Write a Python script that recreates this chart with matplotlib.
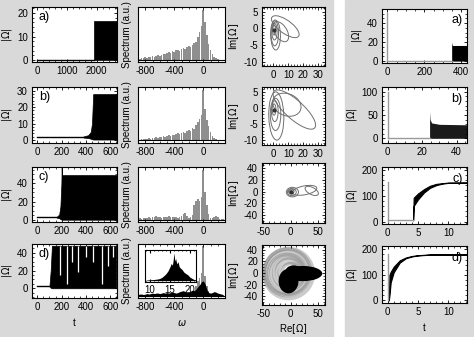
import numpy as np
import matplotlib
matplotlib.use("Agg")
import matplotlib.pyplot as plt
from matplotlib.patches import Ellipse, Rectangle
from matplotlib.ticker import AutoMinorLocator

plt.rcParams['font.family'] = ['Liberation Sans', 'DejaVu Sans']
plt.rcParams['font.size'] = 7
plt.rcParams['mathtext.fontset'] = 'dejavusans'
plt.rcParams['axes.unicode_minus'] = False

W, H = 474, 337

# ---- left column: |Omega|(t), black envelopes ----
a_base_t = [0, 1900]; a_base = [0.2, 0.2]
a_env_t = [1900, 2680]; a_env_lo = [0, 0]; a_env_hi = [16.7, 16.7]

b_base_t = [0, 380]; b_base = [1.8, 1.8]
b_env_t = [380, 420, 440, 450, 460, 656]
b_env_lo = [1.5, 1.2, 0.8, 0.5, 0.3, 0.3]
b_env_hi = [2.2, 3, 5, 10, 28, 28]

c_base_t = [0, 160]; c_base = [3, 3]
c_env_t = [160, 180, 190, 198, 200, 204, 656]
c_env_lo = [2.5, 2, 1, 0.5, 0.3, 0.3, 0.3]
c_env_hi = [3.5, 6, 15, 40, 57, 49, 49]

d_base_t = [0, 100]; d_base = [2.5, 2.5]
d_env_t = [100, 110, 120, 650]
d_env_lo = [2, 0.5, 0, 0]
d_env_hi = [3, 20, 48, 48]
d_gap_t = [186, 241, 282, 337, 400, 460, 529, 584, 625]
d_gap_lo = [15, 5, 30, 18, 35, 30, 5, 25, 35]

# ---- spectra ----
omega = list(range(-925, 276, 25))
spec_a = [0.02, 0.03, 0.02, 0.04, 0.03, 0.05, 0.04, 0.06, 0.05, 0.07,
          0.06, 0.08, 0.09, 0.08, 0.1, 0.12, 0.11, 0.13, 0.15, 0.14,
          0.17, 0.16, 0.19, 0.2, 0.18, 0.22, 0.24, 0.21, 0.26, 0.28,
          0.25, 0.3, 0.33, 0.36, 0.45, 0.55, 0.68, 1.0, 0.75, 0.5,
          0.32, 0.2, 0.12, 0.06, 0.03, 0.01, 0, 0, 0]
spec_b = [0.01, 0.02, 0.01, 0.02, 0.03, 0.02, 0.03, 0.04, 0.03, 0.05,
          0.04, 0.06, 0.05, 0.07, 0.06, 0.08, 0.07, 0.09, 0.1, 0.08,
          0.11, 0.1, 0.12, 0.14, 0.12, 0.15, 0.17, 0.14, 0.19, 0.2,
          0.18, 0.24, 0.22, 0.3, 0.36, 0.42, 0.5, 1.0, 0.62, 0.4,
          0.28, 0.16, 0.08, 0.04, 0.02, 0.01, 0, 0, 0]
spec_c = [0.02, 0.02, 0.03, 0.02, 0.03, 0.03, 0.04, 0.05, 0.04, 0.06,
          0.05, 0.07, 0.06, 0.05, 0.04, 0.05, 0.06, 0.06, 0.07, 0.06,
          0.05, 0.06, 0.05, 0.04, 0.05, 0.08, 0.12, 0.13, 0.08, 0.04,
          0.05, 0.1, 0.3, 0.38, 0.42, 0.38, 0.45, 1.0, 0.55, 0.3,
          0.12, 0.04, 0.03, 0.06, 0.07, 0.05, 0.02, 0.01, 0.01]
spec_d_gray = [0, 0, 0, 0, 0, 0, 0, 0, 0, 0,
               0, 0, 0, 0, 0, 0, 0, 0, 0, 0,
               0, 0, 0, 0, 0, 0, 0, 0, 0, 0,
               0, 0, 0, 0.2, 0.3, 0.35, 0.45, 1.0, 0.4, 0.2,
               0.1, 0, 0, 0, 0, 0, 0, 0, 0]
spec_d_black = [0.02, 0.02, 0.03, 0.03, 0.02, 0.03, 0.04, 0.03, 0.04, 0.05,
                0.04, 0.05, 0.05, 0.04, 0.05, 0.06, 0.05, 0.06, 0.05, 0.06,
                0.07, 0.06, 0.05, 0.06, 0.08, 0.09, 0.1, 0.08, 0.06, 0.07,
                0.09, 0.11, 0.1, 0.13, 0.18, 0.22, 0.28, 0.3, 0.24, 0.12,
                0.06, 0.05, 0.06, 0.08, 0.07, 0.05, 0.04, 0.03, 0.02]
inset_x = [9, 10, 11, 12, 12.5, 13, 13.5, 14, 14.5, 15, 15.3, 15.6, 15.8, 16,
           16.2, 16.4, 16.7, 17, 17.3, 17.6, 18, 18.5, 19, 19.5, 20, 20.5, 21, 22]
inset_hi = [0.02, 0.03, 0.04, 0.06, 0.08, 0.12, 0.18, 0.25, 0.35, 0.5, 0.62, 0.55,
            0.75, 1.0, 0.7, 0.8, 0.6, 0.68, 0.5, 0.45, 0.4, 0.3, 0.25, 0.2,
            0.12, 0.08, 0.04, 0.02]

# ---- phase portraits: (cx, cy, width, height, angle) ----
ph_a = [(0.5, -0.5, 2, 3, 0), (0.8, -1, 3.5, 5, 0), (1, -1.5, 5, 7.5, 0),
        (1.5, -2, 6.5, 9, 5), (8, 0.5, 19, 4.5, -15), (5, -1, 11, 5, -20)]
ph_b = [(0.5, -0.5, 2.5, 3.5, 0), (1, -1, 4.5, 6.5, 0), (1.5, -2, 7, 10, 0),
        (2, -2.5, 10, 15, 5), (14, -0.5, 30, 7, -20), (9, 1, 19, 7, -5)]
ph_c = [(0, 0, 5, 4, 0), (1, 0, 10, 8, 0), (2, -1, 16, 12, 0),
        (3, -1, 22, 16, 0), (25, 2, 45, 15, 10), (38, 1, 26, 12, -25)]
ph_d_rings = [(0, 2, 30, 28), (-2, 0, 38, 36), (-3, 2, 46, 44), (-4, 0, 54, 52),
              (-5, 1, 62, 60), (-6, -1, 70, 66), (-5, 0, 78, 74), (-6, 1, 84, 80),
              (-4, -1, 90, 86)]
ph_d_blob = [(22, -1, 70, 26, 0), (-4, -14, 36, 42, 0), (5, 2, 30, 22, 0)]

# ---- right panel ----
ra_spike = [0, 51]; ra_base_t = [0, 348]; ra_base = [0.3, 0.3]
ra_env_t = [348, 352, 431]; ra_env_hi = [20, 16.5, 16.5]
rb_spike = [0, 100]; rb_base_t = [0, 24.3]; rb_base = [0.5, 0.5]
rb_env_t = [24.3, 24.6, 25.5, 30, 46]; rb_env_hi = [57, 40, 33, 30, 29]
rc_spike = [0, 152]; rc_base_t = [0, 4.2]; rc_base = [5, 5]
rc_env_t = [4.2, 4.3, 5, 6, 7, 8, 9, 10, 13.1]
rc_env_lo = [5, 60, 85, 112, 130, 140, 146, 149, 150]
rc_env_hi = [5, 92, 108, 125, 138, 145, 148, 150, 150]
rd_spike = [0, 182]
rd_env_t = [0.2, 0.3, 0.5, 1, 2, 3, 4, 5, 7, 13.1]
rd_env_lo = [0, 20, 70, 110, 148, 165, 172, 176, 179, 180]
rd_env_hi = [0, 100, 112, 132, 157, 168, 174, 177, 180, 180]

fig = plt.figure(figsize=(W / 100, H / 100), dpi=100)
fig.patch.set_facecolor('white')
fig.patches.append(Rectangle((0, 0), 333 / W, 1, transform=fig.transFigure,
                             color='#d9d9d9', zorder=-10))
fig.patches.append(Rectangle((345 / W, 0), 1 - 345 / W, 1, transform=fig.transFigure,
                             color='#d9d9d9', zorder=-10))


def box(l, t, r, b):
    ax = fig.add_axes([l / W, 1 - b / H, (r - l) / W, (b - t) / H])
    ax.set_facecolor('white')
    ax.tick_params(direction='in', top=True, right=True, length=2.5, width=0.6,
                   labelsize=7, pad=3)
    ax.tick_params(which='minor', direction='in', top=True, right=True, length=1.5, width=0.5)
    ax.xaxis.set_minor_locator(AutoMinorLocator())
    ax.yaxis.set_minor_locator(AutoMinorLocator())
    for s in ax.spines.values():
        s.set_linewidth(0.8)
    return ax


rows = [(7, 62), (87, 143), (167, 222), (244, 298)]
labels = ['a)', 'b)', 'c)', 'd)']

# column 1
ts = [
    (a_base_t, a_base, a_env_t, a_env_lo, a_env_hi, (-170, 2680), (-0.8, 22.5), [0, 10, 20], [0, 1000, 2000]),
    (b_base_t, b_base, b_env_t, b_env_lo, b_env_hi, (-44, 656), (-1.8, 32.3), [0, 10, 20, 30], [0, 200, 400, 600]),
    (c_base_t, c_base, c_env_t, c_env_lo, c_env_hi, (-44, 656), (-2.2, 57.8), [0, 20, 40], [0, 200, 400, 600]),
    (d_base_t, d_base, d_env_t, d_env_lo, d_env_hi, (-44, 656), (-11, 50), [0, 20, 40], [0, 200, 400, 600]),
]
for i, (bt, bv, et, elo, ehi, xl, yl, yt, xt) in enumerate(ts):
    t, b = rows[i]
    ax = box(32, t, 117, b)
    ax.plot(bt, bv, color='k', lw=1)
    ax.fill_between(et, elo, ehi, color='k', lw=0.5)
    if i == 3:
        ax.vlines(d_gap_t, d_gap_lo, 48, color='white', lw=0.9)
    ax.set_xlim(xl); ax.set_ylim(yl)
    ax.set_yticks(yt); ax.set_xticks(xt)
    ax.set_ylabel(r'$|\Omega|$', labelpad=2)
    ax.text(0.08, 0.92, labels[i], transform=ax.transAxes, ha='left', va='top', fontsize=9)
    if i == 3:
        ax.set_xlabel('t', labelpad=4)

# column 2
specs = [spec_a, spec_b, spec_c, spec_d_gray]
for i, sp in enumerate(specs):
    t, b = rows[i]
    ax = box(138, t, 225, b)
    ax.bar(omega, sp, width=21, color='#8f8f8f', lw=0)
    if i == 3:
        ax.fill_between(omega, 0, spec_d_black, color='k', lw=0)
    ax.axhline(0, color='k', lw=0.8)
    ax.set_xlim(-900, 300); ax.set_ylim(-0.05, 1.05)
    ax.set_xticks([-800, -400, 0]); ax.set_yticks([])
    ax.yaxis.set_minor_locator(plt.NullLocator())
    ax.set_ylabel('Spectrum (a.u.)', labelpad=4)
    if i == 3:
        ax.set_xlabel(r'$\omega$', labelpad=4)
        ins = fig.add_axes([145 / W, 1 - 282 / H, 51 / W, 32 / H])
        ins.fill_between(inset_x, 0, inset_hi, color='k', lw=0)
        ins.tick_params(direction='in', top=True, right=True, length=2, labelsize=7, pad=2)
        ins.xaxis.set_minor_locator(AutoMinorLocator())
        ins.tick_params(which='minor', direction='in', top=True, length=1)
        ins.set_xlim(8.75, 21.5); ins.set_ylim(-0.05, 1.1)
        ins.set_xticks([10, 15, 20]); ins.set_yticks([])

# column 3
prow = [(7, 66), (87, 145), (163, 223), (245, 305)]
ph_sets = [ph_a, ph_b, ph_c]
lims = [((-7.5, 34.4), (-11.3, 6.4), [0, 10, 20, 30], [-10, -5, 0, 5]),
        ((-7.5, 34.4), (-11.5, 6.5), [0, 10, 20, 30], [-10, -5, 0, 5]),
        ((-52, 62), (-53, 48), [-50, 0, 50], [-40, -20, 0, 20, 40]),
        ((-52, 62), (-55, 48), [-50, 0, 50], [-40, -20, 0, 20, 40])]
for i in range(4):
    t, b = prow[i]
    ax = box(262, t, 325, b)
    xl, yl, xt, yt = lims[i]
    if i < 3:
        for cx, cy, w, h, ang in ph_sets[i]:
            ax.add_patch(Ellipse((cx, cy), w, h, angle=ang, fill=False,
                                 ec='#6e6e6e', lw=0.7))
        ax.plot([ph_sets[i][0][0]], [ph_sets[i][0][1]], 'o', color='#333333', ms=2)
    else:
        for cx, cy, w, h in ph_d_rings:
            ax.add_patch(Ellipse((cx, cy), w, h, fill=False, ec='#555555',
                                 lw=2.5, alpha=0.3))
        for cx, cy, w, h, ang in ph_d_blob:
            ax.add_patch(Ellipse((cx, cy), w, h, angle=ang, color='k', lw=0))
    ax.set_xlim(xl); ax.set_ylim(yl)
    ax.set_xticks(xt); ax.set_yticks(yt)
    ax.set_ylabel(r'Im$[\Omega]$', labelpad=2)
    if i == 3:
        ax.set_xlabel(r'Re$[\Omega]$', labelpad=2)

# right panel
rrow = [(9, 63), (87, 143), (167, 224), (246, 303)]
gray = '#9a9a9a'
ax = box(382, rrow[0][0], 467, rrow[0][1])
ax.plot([0, 0], ra_spike, color=gray, lw=1)
ax.plot(ra_base_t, ra_base, color=gray, lw=1)
ax.fill_between(ra_env_t, 0, ra_env_hi, color='k', lw=0)
ax.set_xlim(-29, 431); ax.set_ylim(-2, 55)
ax.set_xticks([0, 200, 400]); ax.set_yticks([0, 20, 40])

ax2 = box(382, rrow[1][0], 467, rrow[1][1])
ax2.plot([0, 0], rb_spike, color=gray, lw=1)
ax2.plot(rb_base_t, rb_base, color=gray, lw=1)
ax2.fill_between(rb_env_t, 0, rb_env_hi, color='#1a1a1a', lw=0)
ax2.set_xlim(-3.3, 46); ax2.set_ylim(-10, 110)
ax2.set_xticks([0, 20, 40]); ax2.set_yticks([0, 50, 100])

ax3 = box(382, rrow[2][0], 467, rrow[2][1])
ax3.plot([0, 0], rc_spike, color=gray, lw=1)
ax3.plot(rc_base_t, rc_base, color=gray, lw=1)
ax3.fill_between(rc_env_t, rc_env_lo, rc_env_hi, color='k', lw=0.8)
ax3.set_xlim(-0.93, 13.1); ax3.set_ylim(-9, 210)
ax3.set_xticks([0, 5, 10]); ax3.set_yticks([0, 100, 200])

ax4 = box(382, rrow[3][0], 467, rrow[3][1])
ax4.plot([0, 0], rd_spike, color=gray, lw=1)
ax4.fill_between(rd_env_t, rd_env_lo, rd_env_hi, color='k', lw=0.8)
ax4.set_xlim(-0.93, 13.1); ax4.set_ylim(-10, 213)
ax4.set_xticks([0, 5, 10]); ax4.set_yticks([0, 100, 200])
ax4.set_xlabel('t', labelpad=4)

for a, lab in zip([ax, ax2, ax3, ax4], labels):
    a.set_ylabel(r'$|\Omega|$', labelpad=2)
    a.text(0.95, 0.9, lab, transform=a.transAxes, ha='right', va='top', fontsize=9)

fig.savefig('out.png', dpi=100)
